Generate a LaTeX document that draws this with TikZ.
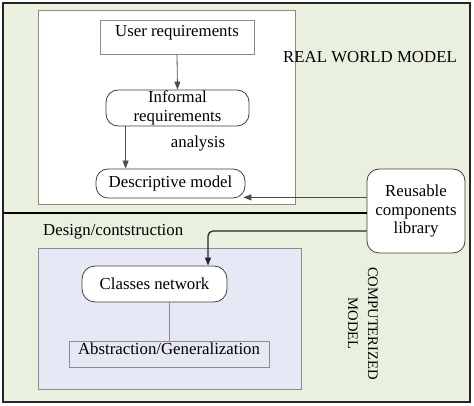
\documentclass[tikz,border=0pt]{standalone}
\usepackage{fontspec}
\setmainfont{Liberation Serif}
\usetikzlibrary{arrows.meta}
\definecolor{bggreen}{HTML}{EAF0DE}
\definecolor{bgblue}{HTML}{E6E9F5}
\definecolor{edgegray}{HTML}{8C8C8C}
\definecolor{linegray}{HTML}{505050}
\tikzset{
  txt/.style={font=\fontsize{16.8}{18.5}\selectfont},
  boxnode/.style={txt, draw=edgegray, line width=0.8pt, fill=white, inner sep=0pt, align=center},
  roundnode/.style={boxnode, draw=black!75, rounded corners=12pt},
  arr/.style={draw=linegray, line width=0.8pt, -{Triangle[length=8pt,width=6pt]}},
  darkarr/.style={draw=black!85, line width=1.3pt, -{Triangle[length=8pt,width=6pt]}},
}
\begin{document}
\begin{tikzpicture}[x=1pt,y=-1pt]
\useasboundingbox (0,0) rectangle (474,406);
% outer frame
\draw[fill=bggreen, draw=black!85, line width=1.3pt] (3,3) rectangle (470,402);
% real world area
\draw[fill=white, draw=edgegray, line width=0.8pt] (38,10) rectangle (295,204);
% computerized area
\draw[fill=bgblue, draw=edgegray, line width=0.8pt] (38,248) rectangle (301,389);

% nodes
\node[boxnode, minimum width=154pt, minimum height=34pt, text height=16pt, text depth=16pt] (userreq) at (177,37) {User requirements};
\node[roundnode, minimum width=143pt, minimum height=36pt] (informal) at (177.5,108) {Informal\\requirements};
\node[roundnode, minimum width=149pt, minimum height=29pt] (descr) at (170.5,183.5) {Descriptive model};
\node[roundnode, minimum width=98pt, minimum height=84pt] (lib) at (416,211) {Reusable\\components\\library};
\node[roundnode, minimum width=145pt, minimum height=36pt, rounded corners=13pt] (classes) at (154.5,284) {Classes network};
\node[boxnode, fill=bgblue, minimum width=200pt, minimum height=26pt, text height=12pt, text depth=12pt] (abstr) at (169,354) {Abstraction/Generalization};

% labels
\node[txt, anchor=base] (analysis) at (198,148) {analysis};
\node[txt, anchor=base west, inner sep=0pt] (rwm) at (283,63) {REAL WORLD MODEL};
\node[txt, anchor=base west, inner sep=0pt] (design) at (43,236) {Design/contstruction};
\node[font=\fontsize{14.6}{20}\selectfont, rotate=-90, align=center, inner sep=0pt] (cm) at (363,323.5) {COMPUTERIZED\\MODEL};

% divider
\coordinate (dl) at (3,213);
\draw[black, line width=1.6pt] (dl) -- (dl -| lib.west);

% connectors
\coordinate (tip) at ([shift={(-2,-1)}]descr.south east);
\draw[arr] (userreq.south) -- (informal.north);
\draw[arr] ([xshift=20pt]informal.south west) -- ([xshift=20pt]informal.south west |- descr.north);
\draw[arr, draw=black!70] (lib.west |- tip) -- (tip);
\draw[darkarr, rounded corners=5pt] ([yshift=-20pt]lib.west) -| ([xshift=53.5pt]classes.north);
\draw[draw=edgegray, line width=0.8pt] (abstr.north |- classes.south) -- (abstr.north);
\end{tikzpicture}
\end{document}
